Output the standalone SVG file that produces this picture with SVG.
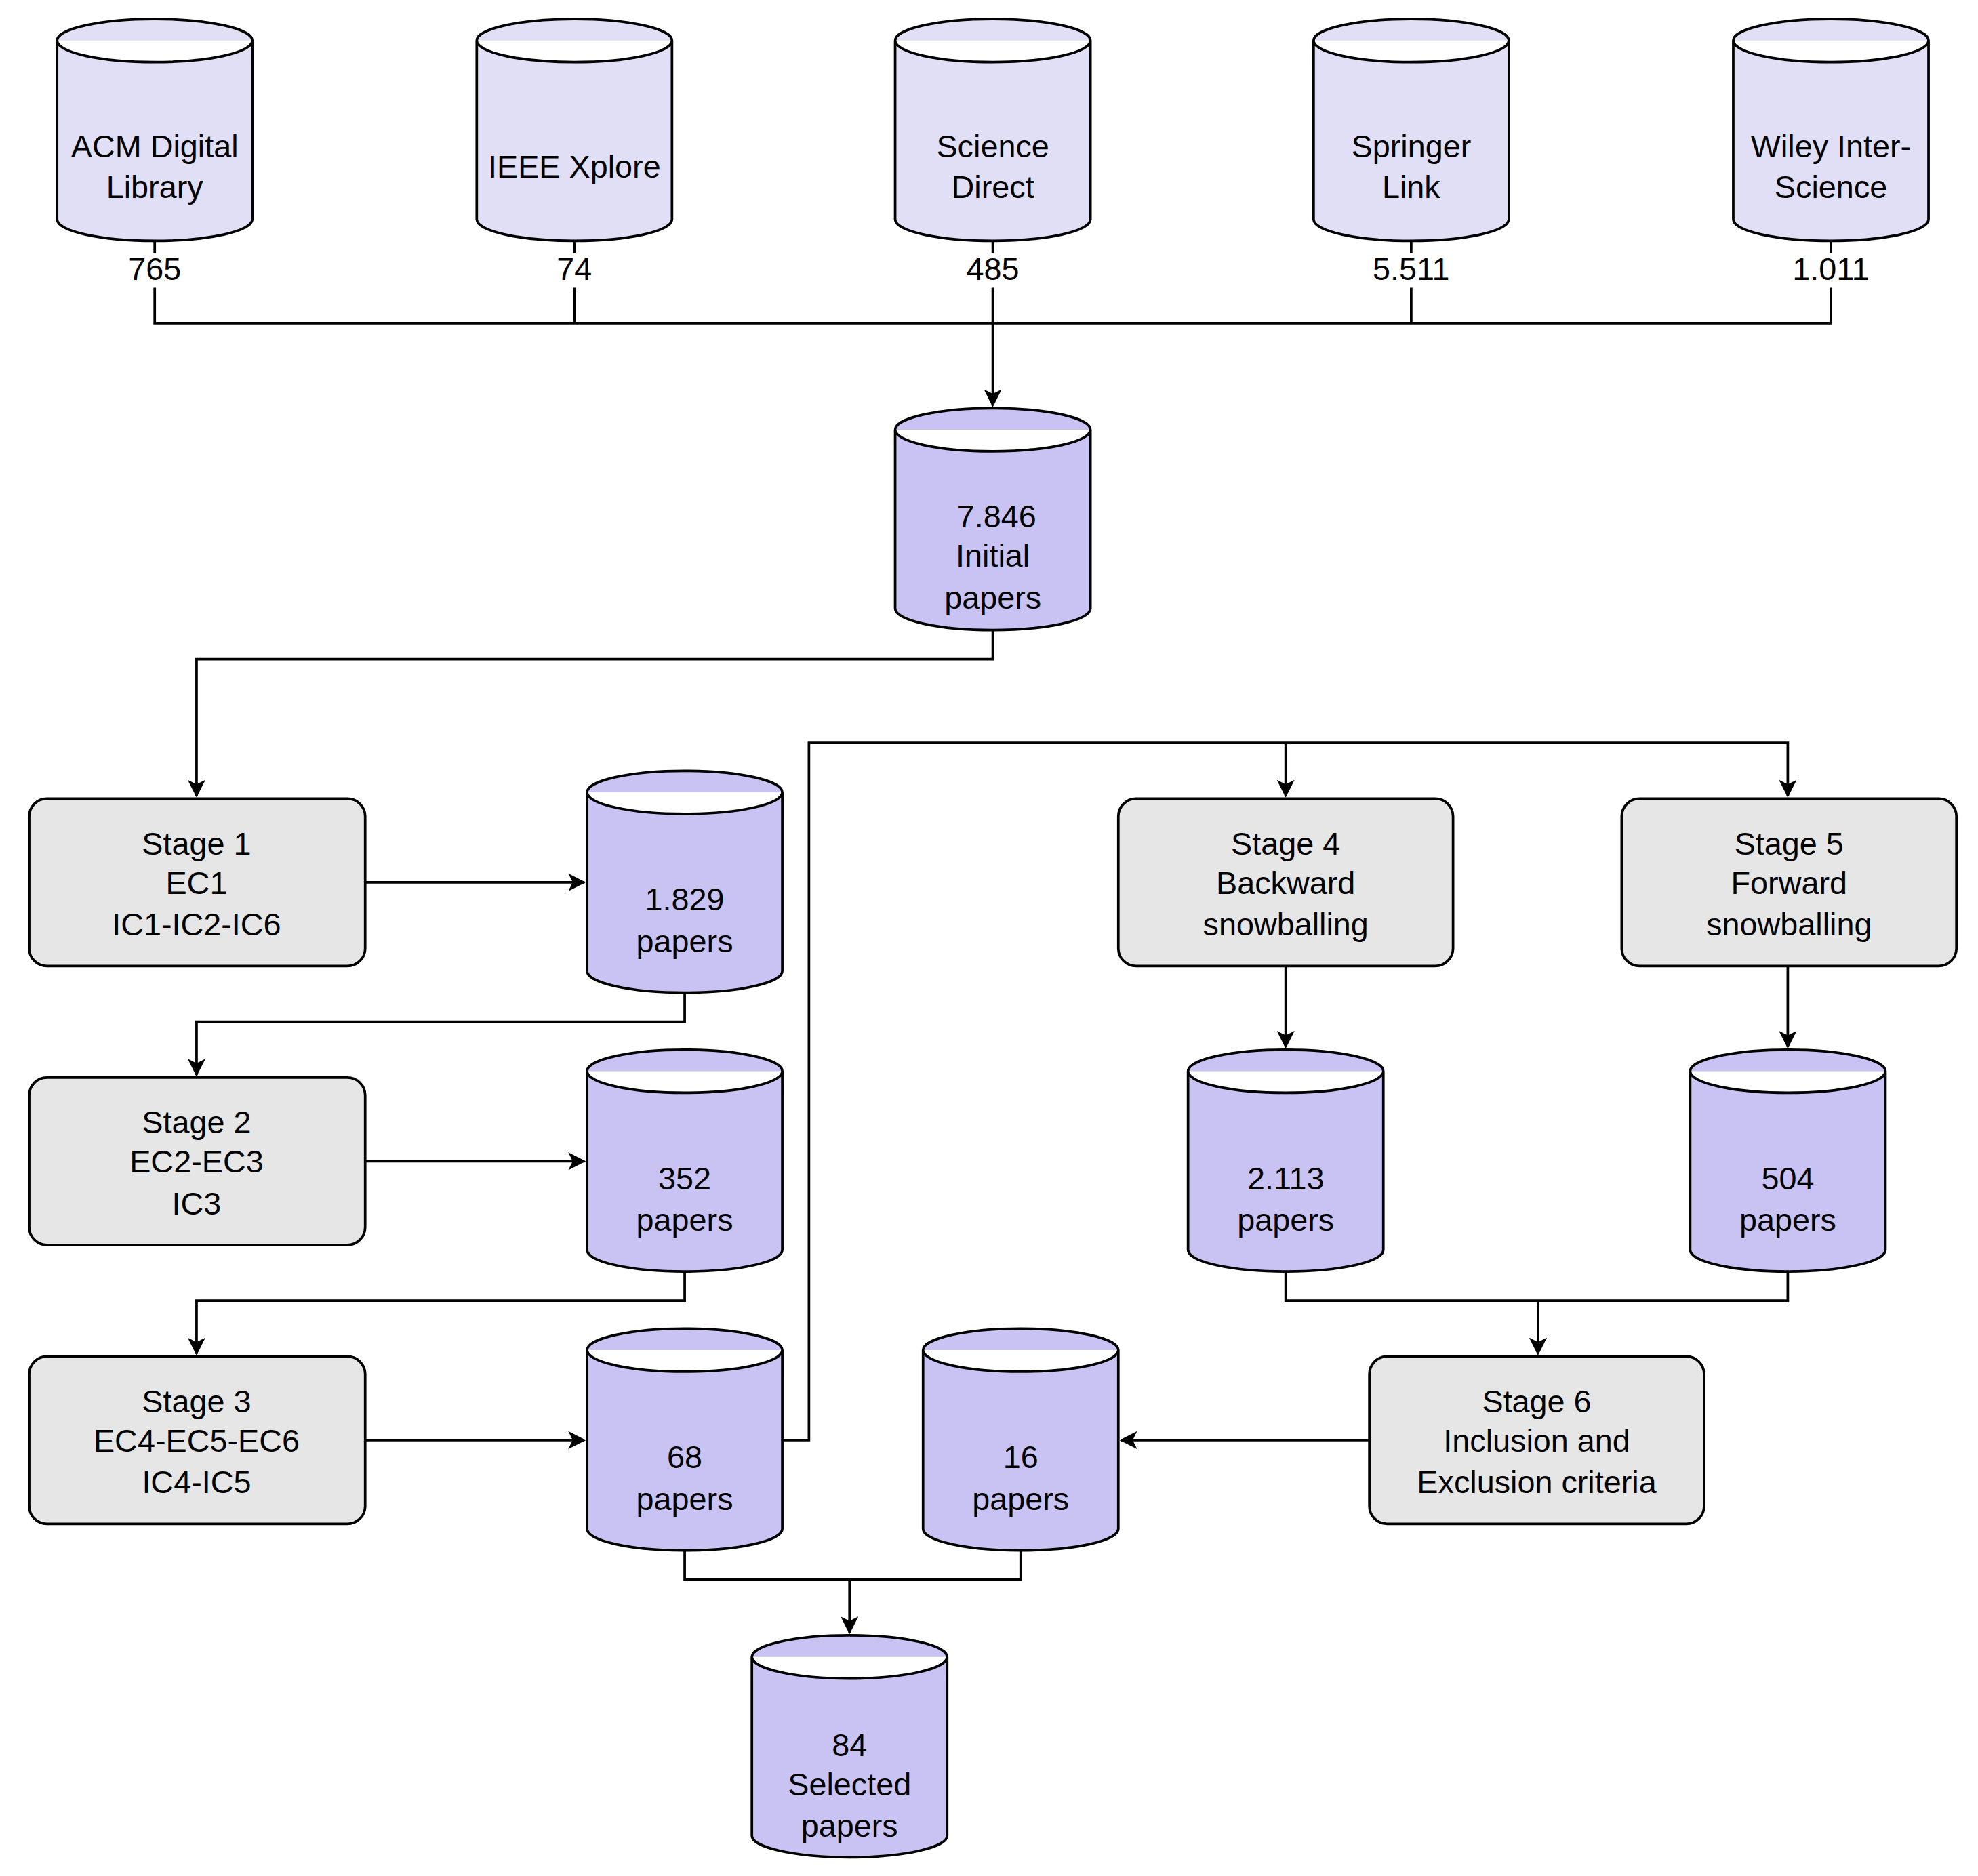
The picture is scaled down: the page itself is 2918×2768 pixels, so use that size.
<svg xmlns="http://www.w3.org/2000/svg" width="2918" height="2768" viewBox="0 0 2918 2768">
<style>
.c1{fill:#e1dff5;stroke:#000;stroke-width:2}
.c2{fill:#c8c3f2;stroke:#000;stroke-width:2}
.bx{fill:#e6e6e6;stroke:#000;stroke-width:2}
.ln{fill:none;stroke:#000;stroke-width:2}
.ar{fill:none;stroke:#000;stroke-width:2;marker-end:url(#ah)}
text{font-family:"Liberation Sans",Arial,sans-serif;font-size:25px;text-anchor:middle;fill:#000}
</style>
<defs>
<marker id="ah" markerWidth="14" markerHeight="14" refX="11" refY="6" orient="auto" markerUnits="userSpaceOnUse" viewBox="0 0 12 12">
<path d="M0,0 L12,6 L0,12 L3,6 Z" fill="#000"/>
</marker>
<path id="cyl" d="M0,17 A77,17 0 0 1 154,17 L154,158 A77,17 0 0 1 0,158 Z M0,17 A77,17 0 0 0 154,17"/>
</defs>
<rect width="2918" height="2768" fill="#fff"/>
<g transform="scale(1.8705)">
<g id="connectors">
<path class="ln" d="M122,190 V200 M122,227 V255 H1444 V227 M1444,200 V190 M453,190 V200 M453,227 V255 M783,190 V200 M1113,190 V200 M1113,227 V255"/>
<path class="ar" d="M783,227 V320"/>
<path class="ar" d="M783,497 V520 H155 V628"/>
<path class="ar" d="M288,696 H461"/>
<path class="ar" d="M288,916 H461"/>
<path class="ar" d="M288,1136 H461"/>
<path class="ar" d="M540,783 V806 H155 V848"/>
<path class="ar" d="M540,1003 V1026 H155 V1068"/>
<path class="ar" d="M617,1136 H638 V586 H1410 V628"/>
<path class="ar" d="M1014,586 V628"/>
<path class="ar" d="M1014,762 V826"/>
<path class="ar" d="M1410,762 V826"/>
<path class="ar" d="M1014,1003 V1026 H1410 V1003 M1213,1026 V1068"/>
<path class="ar" d="M1080,1136 H884"/>
<path class="ar" d="M540,1223 V1246 H805 V1223 M670,1246 V1288"/>
</g>
<g id="acm"><use href="#cyl" class="c1" x="45" y="15"/><text x="122" y="124">ACM Digital</text><text x="122" y="156">Library</text><text x="122" y="221">765</text></g>
<g id="ieee"><use href="#cyl" class="c1" x="376" y="15"/><text x="453" y="140">IEEE Xplore</text><text x="453" y="221">74</text></g>
<g id="sd"><use href="#cyl" class="c1" x="706" y="15"/><text x="783" y="124">Science</text><text x="783" y="156">Direct</text><text x="783" y="221">485</text></g>
<g id="springer"><use href="#cyl" class="c1" x="1036" y="15"/><text x="1113" y="124">Springer</text><text x="1113" y="156">Link</text><text x="1113" y="221">5.511</text></g>
<g id="wiley"><use href="#cyl" class="c1" x="1367" y="15"/><text x="1444" y="124">Wiley Inter-</text><text x="1444" y="156">Science</text><text x="1444" y="221">1.011</text></g>
<g id="initial"><use href="#cyl" class="c2" x="706" y="322"/><text x="786" y="416">7.846</text><text x="783" y="447">Initial</text><text x="783" y="480">papers</text></g>
<g id="stage1"><rect class="bx" x="23" y="630" width="265" height="132" rx="14"/><text x="155" y="674">Stage 1</text><text x="155" y="705">EC1</text><text x="155" y="738">IC1-IC2-IC6</text></g>
<g id="stage2"><rect class="bx" x="23" y="850" width="265" height="132" rx="14"/><text x="155" y="894">Stage 2</text><text x="155" y="925">EC2-EC3</text><text x="155" y="958">IC3</text></g>
<g id="stage3"><rect class="bx" x="23" y="1070" width="265" height="132" rx="14"/><text x="155" y="1114">Stage 3</text><text x="155" y="1145">EC4-EC5-EC6</text><text x="155" y="1178">IC4-IC5</text></g>
<g id="p1829"><use href="#cyl" class="c2" x="463" y="608"/><text x="540" y="718">1.829</text><text x="540" y="751">papers</text></g>
<g id="p352"><use href="#cyl" class="c2" x="463" y="828"/><text x="540" y="938">352</text><text x="540" y="971">papers</text></g>
<g id="p68"><use href="#cyl" class="c2" x="463" y="1048"/><text x="540" y="1158">68</text><text x="540" y="1191">papers</text></g>
<g id="stage4"><rect class="bx" x="882" y="630" width="264" height="132" rx="14"/><text x="1014" y="674">Stage 4</text><text x="1014" y="705">Backward</text><text x="1014" y="738">snowballing</text></g>
<g id="stage5"><rect class="bx" x="1279" y="630" width="264" height="132" rx="14"/><text x="1411" y="674">Stage 5</text><text x="1411" y="705">Forward</text><text x="1411" y="738">snowballing</text></g>
<g id="p2113"><use href="#cyl" class="c2" x="937" y="828"/><text x="1014" y="938">2.113</text><text x="1014" y="971">papers</text></g>
<g id="p504"><use href="#cyl" class="c2" x="1333" y="828"/><text x="1410" y="938">504</text><text x="1410" y="971">papers</text></g>
<g id="stage6"><rect class="bx" x="1080" y="1070" width="264" height="132" rx="14"/><text x="1212" y="1114">Stage 6</text><text x="1212" y="1145">Inclusion and</text><text x="1212" y="1178">Exclusion criteria</text></g>
<g id="p16"><use href="#cyl" class="c2" x="728" y="1048"/><text x="805" y="1158">16</text><text x="805" y="1191">papers</text></g>
<g id="selected"><use href="#cyl" class="c2" x="593" y="1290"/><text x="670" y="1385">84</text><text x="670" y="1416">Selected</text><text x="670" y="1449">papers</text></g>
</g>
</svg>
